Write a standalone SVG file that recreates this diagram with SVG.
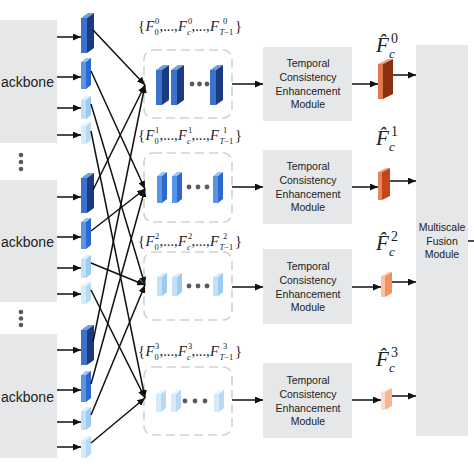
<svg xmlns="http://www.w3.org/2000/svg" width="474" height="474" viewBox="0 0 474 474">
<style>
.box{fill:#e6e7e8}
.dash{fill:#fff;stroke:#d2d2d2;stroke-width:1.6;stroke-dasharray:9 5}
.arr{stroke:#111;stroke-width:1.5;fill:none;marker-end:url(#ah)}
.ln{stroke:#111;stroke-width:1.5;fill:none}
.t{font-family:"Liberation Sans",Arial,sans-serif;font-size:10.5px;fill:#222;text-anchor:middle}
.bb{font-family:"Liberation Sans",Arial,sans-serif;font-size:14px;fill:#222}
.m{font-family:"Liberation Serif","Times New Roman",serif;fill:#222}
.i{font-style:italic}
.s{font-size:8.5px}
.dot{fill:#5a5a5a}
</style>
<defs>
<marker id="ah" markerUnits="userSpaceOnUse" markerWidth="8" markerHeight="7" refX="8" refY="3.5" orient="auto">
<path d="M0,0 L8,3.5 L0,7 z" fill="#111"/>
</marker>
<g id="s0">
<polygon points="0,5 6,5 13,0 7,0" fill="#6f9fe2"/>
<rect x="0" y="5" width="6" height="35" fill="#3c72cc"/>
<polygon points="6,5 13,0 13,35 6,40" fill="#1d3a80"/>
</g>
<g id="s1">
<polygon points="0,4 5,4 10,0 5,0" fill="#9cc4f2"/>
<rect x="0" y="4" width="5" height="27" fill="#5a96e8"/>
<polygon points="5,4 10,0 10,27 5,31" fill="#2f68c8"/>
</g>
<g id="s2">
<polygon points="0,4 5,4 10,0 5,0" fill="#dff0fc"/>
<rect x="0" y="4" width="5" height="19" fill="#c2e1f8"/>
<polygon points="5,4 10,0 10,19 5,23" fill="#9ccbf0"/>
</g>
<g id="s3">
<polygon points="0,4 5,4 10,0 5,0" fill="#eaf5fd"/>
<rect x="0" y="4" width="5" height="18" fill="#d6ebfa"/>
<polygon points="5,4 10,0 10,18 5,22" fill="#b6daf4"/>
</g>
<g id="o0">
<polygon points="0,5 5,5 15,0 10,0" fill="#f2a47e"/>
<rect x="0" y="5" width="5" height="35" fill="#e2794c"/>
<polygon points="5,5 15,0 15,35 5,40" fill="#8a3013"/>
</g>
<g id="o1">
<polygon points="0,4 4,4 12,0 8,0" fill="#f2a880"/>
<rect x="0" y="4" width="4" height="28" fill="#e6855a"/>
<polygon points="4,4 12,0 12,28 4,32" fill="#c4461b"/>
</g>
<g id="o2">
<polygon points="0,4 4,4 11,0 7,0" fill="#fcd6c0"/>
<rect x="0" y="4" width="4" height="21" fill="#fbc3a3"/>
<polygon points="4,4 11,0 11,21 4,25" fill="#f0915e"/>
</g>
<g id="o3">
<polygon points="0,4 4,4 11,0 7,0" fill="#fde9dd"/>
<rect x="0" y="4" width="4" height="18" fill="#fddccb"/>
<polygon points="4,4 11,0 11,18 4,22" fill="#f6b797"/>
</g>
</defs>
<rect width="474" height="474" fill="#fff"/>

<g id="backbone-1">
<rect class="box" x="0" y="20" width="57" height="123"/>
<text class="bb" x="1" y="87">ackbone</text>
<use href="#s0" x="81" y="13"/><use href="#s1" x="81" y="58"/><use href="#s2" x="81" y="96"/><use href="#s3" x="81" y="122"/>
</g>
<g id="dots-1"><circle class="dot" cx="21" cy="155" r="2.3"/><circle class="dot" cx="21" cy="162" r="2.3"/><circle class="dot" cx="21" cy="169" r="2.3"/></g>
<g id="backbone-2">
<rect class="box" x="0" y="180" width="57" height="122"/>
<text class="bb" x="1" y="247">ackbone</text>
<use href="#s0" x="81" y="173"/><use href="#s1" x="81" y="218"/><use href="#s2" x="81" y="255"/><use href="#s3" x="81" y="282"/>
</g>
<g id="dots-2"><circle class="dot" cx="21" cy="312" r="2.3"/><circle class="dot" cx="21" cy="318.5" r="2.3"/><circle class="dot" cx="21" cy="325" r="2.3"/></g>
<g id="backbone-3">
<rect class="box" x="0" y="334" width="57" height="124"/>
<text class="bb" x="1" y="402">ackbone</text>
<use href="#s0" x="81" y="325"/><use href="#s1" x="81" y="371"/><use href="#s2" x="81" y="407"/><use href="#s3" x="81" y="436"/>
</g>

<g id="group-0">
<rect class="dash" x="144" y="50" width="88" height="68" rx="9"/>
<use href="#s0" x="156" y="65"/><use href="#s0" x="171" y="65"/>
<circle class="dot" cx="192" cy="84" r="2.4"/><circle class="dot" cx="199.5" cy="84" r="2.4"/><circle class="dot" cx="207" cy="84" r="2.4"/>
<use href="#s0" x="210" y="65"/>
<text class="m" font-size="14.5"><tspan x="138" y="31">{</tspan><tspan class="i" x="145.5" y="31">F</tspan><tspan class="s" x="154.5" y="35">0</tspan><tspan class="s" x="155" y="24">0</tspan><tspan x="159.5" y="31">,...,</tspan><tspan class="i" x="178" y="31">F</tspan><tspan class="i s" x="187" y="35">c</tspan><tspan class="s" x="188" y="24">0</tspan><tspan x="191.5" y="31">,...,</tspan><tspan class="i" x="210" y="31">F</tspan><tspan class="s" x="219.5" y="35"><tspan class="i">T</tspan>−1</tspan><tspan class="s" x="223" y="24">0</tspan><tspan x="235" y="31">}</tspan></text>
</g>
<g id="group-1">
<rect class="dash" x="144" y="153" width="88" height="69" rx="9"/>
<use href="#s1" x="157" y="172"/><use href="#s1" x="172" y="172"/>
<circle class="dot" cx="189" cy="187" r="2.4"/><circle class="dot" cx="198" cy="187" r="2.4"/><circle class="dot" cx="207" cy="187" r="2.4"/>
<use href="#s1" x="213" y="172"/>
<text class="m" font-size="14.5"><tspan x="138" y="140">{</tspan><tspan class="i" x="145.5" y="140">F</tspan><tspan class="s" x="154.5" y="144">0</tspan><tspan class="s" x="155" y="133">1</tspan><tspan x="159.5" y="140">,...,</tspan><tspan class="i" x="178" y="140">F</tspan><tspan class="i s" x="187" y="144">c</tspan><tspan class="s" x="188" y="133">1</tspan><tspan x="191.5" y="140">,...,</tspan><tspan class="i" x="210" y="140">F</tspan><tspan class="s" x="219.5" y="144"><tspan class="i">T</tspan>−1</tspan><tspan class="s" x="223" y="133">1</tspan><tspan x="235" y="140">}</tspan></text>
</g>
<g id="group-2">
<rect class="dash" x="144" y="252" width="88" height="68" rx="9"/>
<use href="#s2" x="157" y="273"/><use href="#s2" x="172" y="273"/>
<circle class="dot" cx="189" cy="286" r="2.4"/><circle class="dot" cx="198" cy="286" r="2.4"/><circle class="dot" cx="207" cy="286" r="2.4"/>
<use href="#s2" x="213" y="273"/>
<text class="m" font-size="14.5"><tspan x="138" y="246">{</tspan><tspan class="i" x="145.5" y="246">F</tspan><tspan class="s" x="154.5" y="250">0</tspan><tspan class="s" x="155" y="239">2</tspan><tspan x="159.5" y="246">,...,</tspan><tspan class="i" x="178" y="246">F</tspan><tspan class="i s" x="187" y="250">c</tspan><tspan class="s" x="188" y="239">2</tspan><tspan x="191.5" y="246">,...,</tspan><tspan class="i" x="210" y="246">F</tspan><tspan class="s" x="219.5" y="250"><tspan class="i">T</tspan>−1</tspan><tspan class="s" x="223" y="239">2</tspan><tspan x="235" y="246">}</tspan></text>
</g>
<g id="group-3">
<rect class="dash" x="144" y="367" width="88" height="68" rx="9"/>
<use href="#s3" x="156" y="390"/><use href="#s3" x="171" y="390"/>
<circle class="dot" cx="185" cy="401" r="2.4"/><circle class="dot" cx="195" cy="401" r="2.4"/><circle class="dot" cx="205" cy="401" r="2.4"/>
<use href="#s3" x="214" y="390"/>
<text class="m" font-size="14.5"><tspan x="138" y="356">{</tspan><tspan class="i" x="145.5" y="356">F</tspan><tspan class="s" x="154.5" y="360">0</tspan><tspan class="s" x="155" y="349">3</tspan><tspan x="159.5" y="356">,...,</tspan><tspan class="i" x="178" y="356">F</tspan><tspan class="i s" x="187" y="360">c</tspan><tspan class="s" x="188" y="349">3</tspan><tspan x="191.5" y="356">,...,</tspan><tspan class="i" x="210" y="356">F</tspan><tspan class="s" x="219.5" y="360"><tspan class="i">T</tspan>−1</tspan><tspan class="s" x="223" y="349">3</tspan><tspan x="235" y="356">}</tspan></text>
</g>

<g id="tcem-0">
<rect class="box" x="263" y="47" width="89" height="74"/>
<text class="t"><tspan x="308" y="67">Temporal</tspan><tspan x="308" y="81">Consistency</tspan><tspan x="308" y="94.5">Enhancement</tspan><tspan x="308" y="108">Module</tspan></text>
</g>
<g id="tcem-1">
<rect class="box" x="263" y="150" width="89" height="74"/>
<text class="t"><tspan x="308" y="170">Temporal</tspan><tspan x="308" y="184">Consistency</tspan><tspan x="308" y="197.5">Enhancement</tspan><tspan x="308" y="211">Module</tspan></text>
</g>
<g id="tcem-2">
<rect class="box" x="263" y="249" width="89" height="75"/>
<text class="t"><tspan x="308" y="270">Temporal</tspan><tspan x="308" y="284">Consistency</tspan><tspan x="308" y="297.5">Enhancement</tspan><tspan x="308" y="311">Module</tspan></text>
</g>
<g id="tcem-3">
<rect class="box" x="263" y="363" width="89" height="75"/>
<text class="t"><tspan x="308" y="384">Temporal</tspan><tspan x="308" y="398">Consistency</tspan><tspan x="308" y="411.5">Enhancement</tspan><tspan x="308" y="425">Module</tspan></text>
</g>

<g id="out-0">
<use href="#o0" x="378" y="59"/>
<text class="m"><tspan class="i" font-size="21" x="376" y="52">F&#x302;</tspan><tspan class="i" font-size="13" x="389" y="58">c</tspan><tspan font-size="14" x="391" y="43">0</tspan></text>
</g>
<g id="out-1">
<use href="#o1" x="378" y="168"/>
<text class="m"><tspan class="i" font-size="21" x="376" y="145">F&#x302;</tspan><tspan class="i" font-size="13" x="389" y="151">c</tspan><tspan font-size="14" x="391" y="136">1</tspan></text>
</g>
<g id="out-2">
<use href="#o2" x="381" y="272"/>
<text class="m"><tspan class="i" font-size="21" x="376" y="250">F&#x302;</tspan><tspan class="i" font-size="13" x="389" y="256">c</tspan><tspan font-size="14" x="391" y="241">2</tspan></text>
</g>
<g id="out-3">
<use href="#o3" x="381" y="388"/>
<text class="m"><tspan class="i" font-size="21" x="376" y="366">F&#x302;</tspan><tspan class="i" font-size="13" x="389" y="372">c</tspan><tspan font-size="14" x="391" y="357">3</tspan></text>
</g>

<g id="fusion">
<rect class="box" x="416" y="45" width="52" height="391"/>
<text class="t"><tspan x="442" y="231">Multiscale</tspan><tspan x="442" y="245">Fusion</tspan><tspan x="442" y="258">Module</tspan></text>
</g>

<g id="connectors">
<line class="arr" x1="57" y1="37" x2="81" y2="37"/>
<line class="arr" x1="57" y1="77" x2="81" y2="77"/>
<line class="arr" x1="57" y1="108" x2="81" y2="108"/>
<line class="arr" x1="57" y1="135" x2="81" y2="135"/>
<line class="arr" x1="57" y1="197" x2="81" y2="197"/>
<line class="arr" x1="57" y1="237" x2="81" y2="237"/>
<line class="arr" x1="57" y1="268" x2="81" y2="268"/>
<line class="arr" x1="57" y1="294" x2="81" y2="294"/>
<line class="arr" x1="57" y1="350" x2="81" y2="350"/>
<line class="arr" x1="57" y1="390" x2="81" y2="390"/>
<line class="arr" x1="57" y1="422" x2="81" y2="422"/>
<line class="arr" x1="57" y1="447" x2="81" y2="447"/>

<line class="arr" x1="93" y1="30" x2="145" y2="85"/>
<line class="arr" x1="93" y1="190" x2="145" y2="85"/>
<line class="arr" x1="93" y1="342" x2="145" y2="85"/>
<line class="arr" x1="91" y1="71" x2="145" y2="189"/>
<line class="arr" x1="91" y1="231" x2="145" y2="189"/>
<line class="arr" x1="91" y1="384" x2="145" y2="189"/>
<line class="arr" x1="91" y1="104" x2="145" y2="285"/>
<line class="arr" x1="91" y1="263" x2="145" y2="285"/>
<line class="arr" x1="91" y1="415" x2="145" y2="285"/>
<line class="arr" x1="91" y1="131" x2="145" y2="398"/>
<line class="arr" x1="91" y1="290" x2="145" y2="398"/>
<line class="arr" x1="91" y1="443" x2="145" y2="398"/>

<line class="arr" x1="232" y1="84" x2="263" y2="84"/>
<line class="arr" x1="232" y1="187" x2="263" y2="187"/>
<line class="arr" x1="232" y1="287" x2="263" y2="287"/>
<line class="arr" x1="232" y1="400" x2="263" y2="400"/>

<line class="arr" x1="352" y1="84" x2="378" y2="84"/>
<line class="arr" x1="352" y1="187" x2="378" y2="187"/>
<line class="arr" x1="352" y1="287" x2="381" y2="287"/>
<line class="arr" x1="352" y1="400" x2="381" y2="400"/>

<line class="arr" x1="393" y1="75" x2="416" y2="75"/>
<line class="arr" x1="390" y1="181" x2="416" y2="181"/>
<line class="arr" x1="392" y1="282" x2="416" y2="282"/>
<line class="arr" x1="392" y1="396" x2="416" y2="396"/>

<line class="ln" x1="468" y1="241" x2="474" y2="241"/>
</g>
</svg>
